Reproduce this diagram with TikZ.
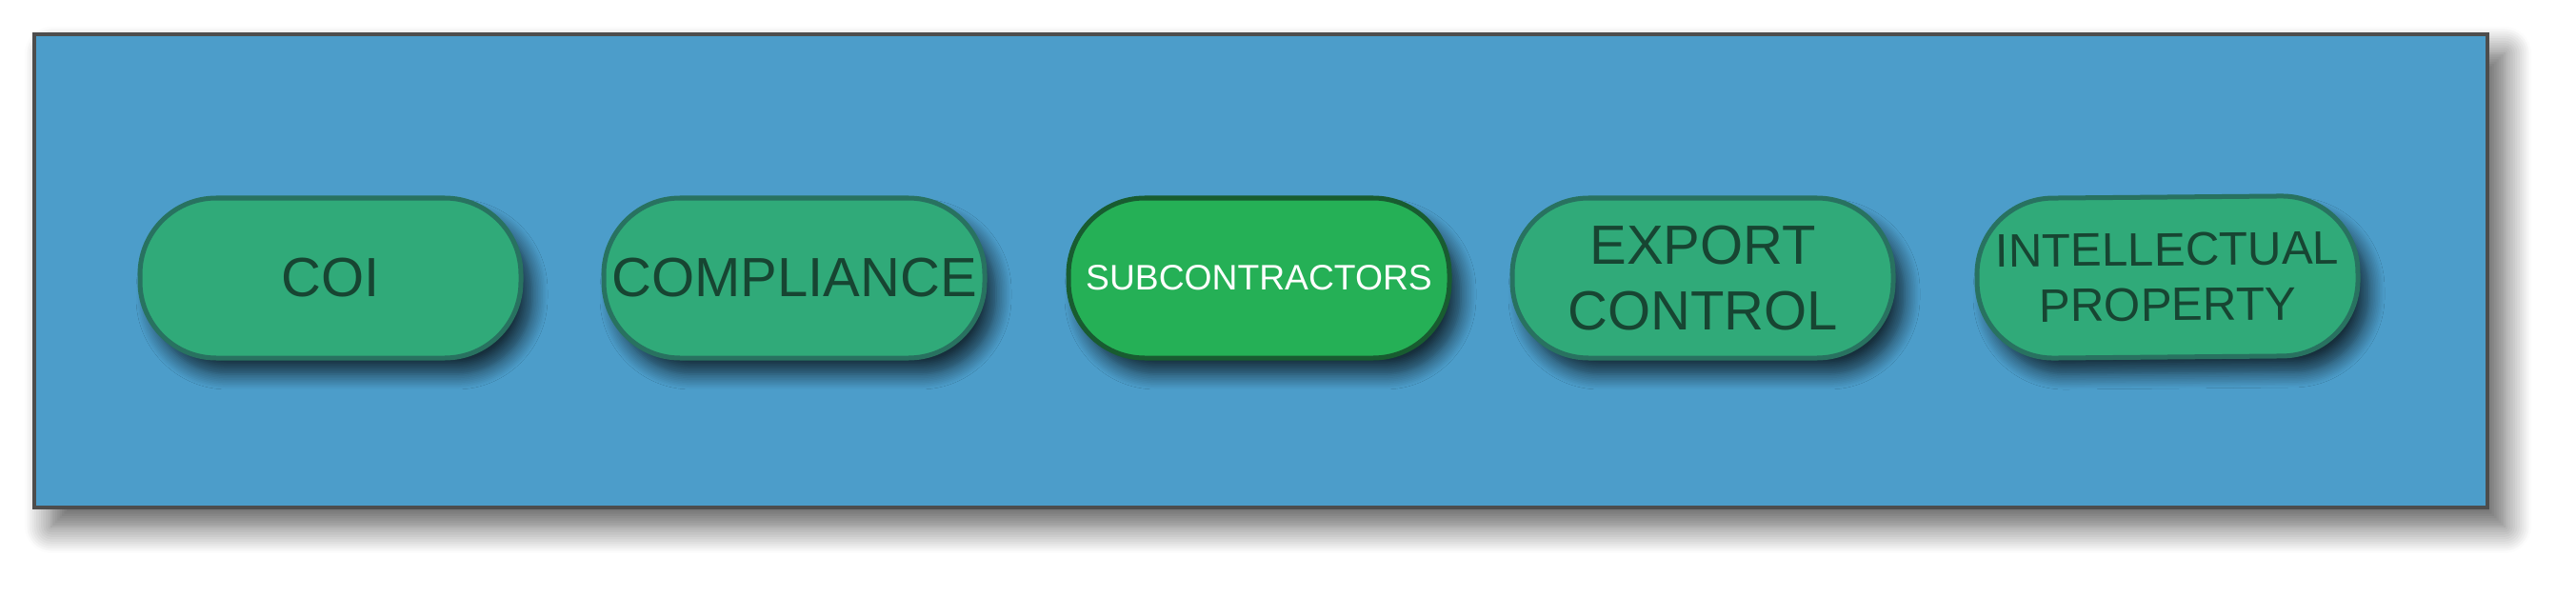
\documentclass[tikz,border=0pt]{standalone}
\usepackage{fontspec}
\setmainfont{Liberation Sans}
\usetikzlibrary{shadows.blur}
\definecolor{panelblue}{RGB}{76,157,202}
\definecolor{framegray}{RGB}{77,77,77}
\definecolor{pillgreen}{RGB}{48,170,121}
\definecolor{pillline}{RGB}{40,114,96}
\definecolor{pilltext}{RGB}{23,69,50}
\definecolor{subgreen}{RGB}{37,176,86}
\definecolor{subline}{RGB}{24,92,48}
\begin{document}
\begin{tikzpicture}
        [pill/.style={rectangle,rounded corners=0.8cm,minimum width=4cm,minimum height=1.68cm,
          inner sep=0pt,align=center,fill=pillgreen,draw=pillline,line width=0.05cm,text=pilltext,
          font=\fontsize{16.5}{19.8}\selectfont,
          blur shadow={shadow xshift=0.12cm,shadow yshift=-0.17cm,shadow blur radius=0.16cm,
            shadow blur steps=10,shadow opacity=70}},
        active/.style={pill,fill=subgreen,draw=subline,text=white,font=\fontsize{10.6}{12.7}\selectfont},
        small/.style={font=\fontsize{14}{16.5}\selectfont}]
        \useasboundingbox (0,0) rectangle (27.05,6.26);
        % panel
        \node (panel) at (13.24,3.415) [rectangle,minimum width=25.76cm,minimum height=4.97cm,
          fill=panelblue,draw=framegray,line width=0.04cm,
          blur shadow={shadow xshift=0.18cm,shadow yshift=-0.2cm,shadow blur radius=0.28cm,
            shadow blur steps=12,shadow opacity=65}] {};
        \node (coi) at (3.47,3.34) [pill] {COI};
        \node (comp) at (8.34,3.34) [pill] {COMPLIANCE};
        \node (sub) at (13.22,3.34) [active] {SUBCONTRACTORS};
        \node (exp) at (17.88,3.34) [pill] {EXPORT\\CONTROL};
        \node (ip) at (22.76,3.35) [pill,small,rotate=0.5] {INTELLECTUAL\\PROPERTY};
     \end{tikzpicture}
\end{document}
